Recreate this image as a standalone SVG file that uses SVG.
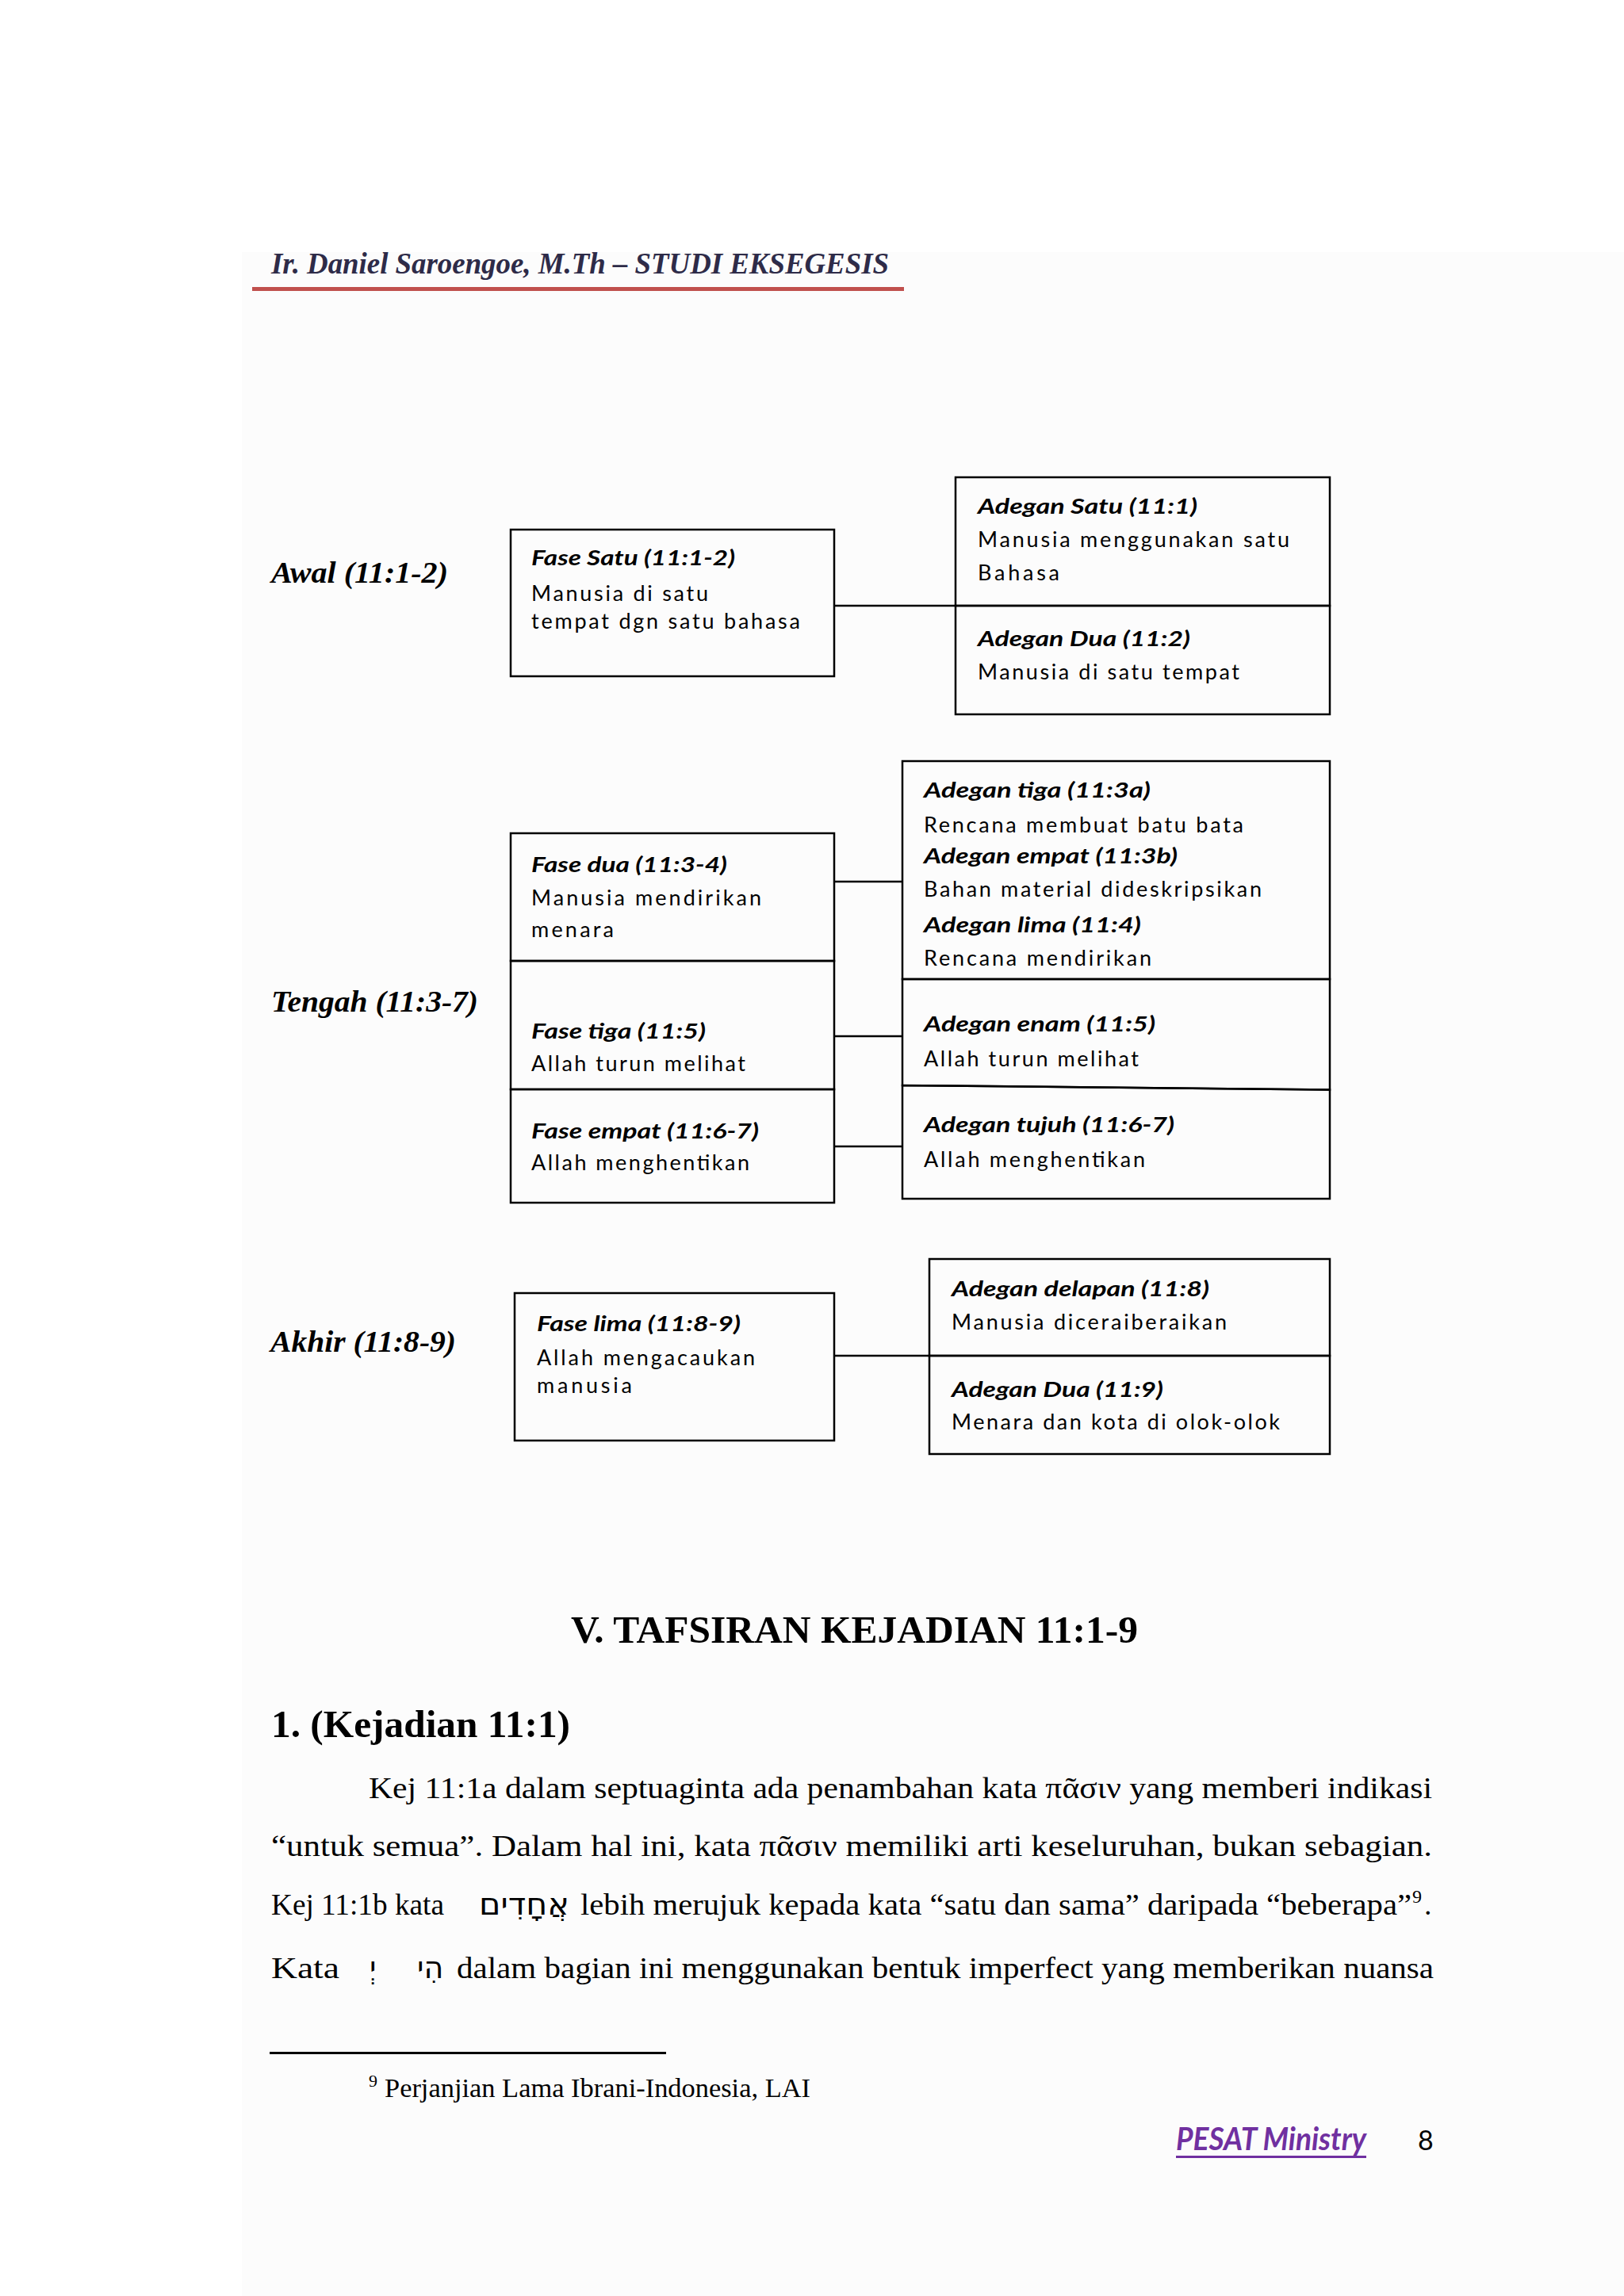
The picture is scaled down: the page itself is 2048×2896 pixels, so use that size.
<svg xmlns="http://www.w3.org/2000/svg" width="2048" height="2896" viewBox="0 0 2048 2896">
<style>
.bx{fill:none;stroke:#000;stroke-width:2.5}
.cn{stroke:#000;stroke-width:2.5;fill:none}
.t{font-family:Lato,"Open Sans",sans-serif;font-size:27px;font-weight:700;font-style:italic;fill:#000}
.d{font-family:Lato,"Open Sans",sans-serif;font-size:27px;fill:#000}
.sec{font-family:"Liberation Serif","Times New Roman",serif;font-size:37px;font-weight:700;font-style:italic;fill:#000}
.body{font-family:"Liberation Serif","Times New Roman",serif;font-size:38px;fill:#000}
.heb{font-family:"DejaVu Sans","Liberation Serif",sans-serif;font-size:38px;fill:#000}
.h{font-family:"Liberation Serif","Times New Roman",serif;font-size:48px;font-weight:700;fill:#000}
</style>
<rect x="0" y="0" width="2048" height="2896" fill="#ffffff"/>
<rect x="305" y="318" width="1743" height="2578" fill="#fcfcfc"/>

<g id="header">
<text x="342" y="345" font-family="'Liberation Serif',serif" font-size="37" font-weight="700" font-style="italic" fill="#2e2b48" textLength="779" lengthAdjust="spacingAndGlyphs">Ir. Daniel Saroengoe, M.Th – STUDI EKSEGESIS</text>
<rect x="318" y="362" width="822" height="5" fill="#c0504d"/>
</g>

<g id="connectors">
<line class="cn" x1="1052" y1="764" x2="1205" y2="764"/>
<line class="cn" x1="1052" y1="1112" x2="1138" y2="1112"/>
<line class="cn" x1="1052" y1="1307" x2="1138" y2="1307"/>
<line class="cn" x1="1052" y1="1446" x2="1138" y2="1446"/>
<line class="cn" x1="1052" y1="1710" x2="1172" y2="1710"/>
</g>

<g id="label-awal"><text class="sec" x="342" y="735" textLength="223" lengthAdjust="spacingAndGlyphs">Awal (11:1-2)</text></g>
<g id="label-tengah"><text class="sec" x="342" y="1276" textLength="261" lengthAdjust="spacingAndGlyphs">Tengah (11:3-7)</text></g>
<g id="label-akhir"><text class="sec" x="341" y="1705" textLength="234" lengthAdjust="spacingAndGlyphs">Akhir (11:8-9)</text></g>

<g id="fase-satu">
<rect class="bx" x="644" y="668" width="408" height="185"/>
<text class="t" x="670" y="713" textLength="257" lengthAdjust="spacingAndGlyphs">Fase Satu (11:1-2)</text>
<text class="d" x="670" y="758" textLength="223" lengthAdjust="spacing">Manusia di satu</text>
<text class="d" x="670" y="793" textLength="339" lengthAdjust="spacing">tempat  dgn satu bahasa</text>
</g>

<g id="adegan-satu">
<rect class="bx" x="1205" y="602" width="472" height="162"/>
<text class="t" x="1233" y="648" textLength="277" lengthAdjust="spacingAndGlyphs">Adegan Satu (11:1)</text>
<text class="d" x="1233" y="690" textLength="393" lengthAdjust="spacing">Manusia menggunakan satu</text>
<text class="d" x="1233" y="732" textLength="103" lengthAdjust="spacing">Bahasa</text>
</g>

<g id="adegan-dua">
<rect class="bx" x="1205" y="764" width="472" height="137"/>
<text class="t" x="1233" y="815" textLength="268" lengthAdjust="spacingAndGlyphs">Adegan Dua (11:2)</text>
<text class="d" x="1233" y="857" textLength="330" lengthAdjust="spacing">Manusia di satu tempat</text>
</g>

<g id="fase-dua">
<rect class="bx" x="644" y="1051" width="408" height="161"/>
<text class="t" x="670" y="1100" textLength="247" lengthAdjust="spacingAndGlyphs">Fase dua (11:3-4)</text>
<text class="d" x="670" y="1142" textLength="290" lengthAdjust="spacing">Manusia mendirikan</text>
<text class="d" x="670" y="1182" textLength="104" lengthAdjust="spacing">menara</text>
</g>

<g id="fase-tiga">
<rect class="bx" x="644" y="1212" width="408" height="162"/>
<text class="t" x="670" y="1310" textLength="220" lengthAdjust="spacingAndGlyphs">Fase tiga (11:5)</text>
<text class="d" x="670" y="1351" textLength="270" lengthAdjust="spacing">Allah turun melihat</text>
</g>

<g id="fase-empat">
<rect class="bx" x="644" y="1374" width="408" height="143"/>
<text class="t" x="670" y="1436" textLength="287" lengthAdjust="spacingAndGlyphs">Fase empat (11:6-7)</text>
<text class="d" x="670" y="1476" textLength="275" lengthAdjust="spacing">Allah menghentikan</text>
</g>

<g id="adegan-tiga-lima">
<rect class="bx" x="1138" y="960" width="539" height="275"/>
<text class="t" x="1165" y="1006" textLength="286" lengthAdjust="spacingAndGlyphs">Adegan tiga (11:3a)</text>
<text class="d" x="1165" y="1050" textLength="403" lengthAdjust="spacing">Rencana membuat  batu bata</text>
<text class="t" x="1165" y="1089" textLength="320" lengthAdjust="spacingAndGlyphs">Adegan empat (11:3b)</text>
<text class="d" x="1165" y="1131" textLength="426" lengthAdjust="spacing">Bahan material dideskripsikan</text>
<text class="t" x="1165" y="1176" textLength="274" lengthAdjust="spacingAndGlyphs">Adegan lima (11:4)</text>
<text class="d" x="1165" y="1218" textLength="287" lengthAdjust="spacing">Rencana mendirikan</text>
</g>

<g id="adegan-enam">
<path class="bx" d="M1138 1235 H1677 V1374.5 L1138 1369 Z"/>
<text class="t" x="1165" y="1301" textLength="292" lengthAdjust="spacingAndGlyphs">Adegan enam (11:5)</text>
<text class="d" x="1165" y="1345" textLength="271" lengthAdjust="spacing">Allah turun melihat</text>
</g>

<g id="adegan-tujuh">
<path class="bx" d="M1138 1369 L1677 1374.5 V1512 H1138 Z"/>
<text class="t" x="1165" y="1428" textLength="316" lengthAdjust="spacingAndGlyphs">Adegan tujuh (11:6-7)</text>
<text class="d" x="1165" y="1472" textLength="279" lengthAdjust="spacing">Allah menghentikan</text>
</g>

<g id="fase-lima">
<rect class="bx" x="649" y="1631" width="403" height="186"/>
<text class="t" x="677" y="1679" textLength="257" lengthAdjust="spacingAndGlyphs">Fase lima (11:8-9)</text>
<text class="d" x="677" y="1722" textLength="275" lengthAdjust="spacing">Allah mengacaukan</text>
<text class="d" x="677" y="1757" textLength="120" lengthAdjust="spacing">manusia</text>
</g>

<g id="adegan-delapan">
<rect class="bx" x="1172" y="1588" width="505" height="122"/>
<text class="t" x="1200" y="1635" textLength="325" lengthAdjust="spacingAndGlyphs">Adegan delapan (11:8)</text>
<text class="d" x="1200" y="1677" textLength="347" lengthAdjust="spacing">Manusia diceraiberaikan</text>
</g>

<g id="adegan-dua-akhir">
<rect class="bx" x="1172" y="1710" width="505" height="124"/>
<text class="t" x="1200" y="1762" textLength="267" lengthAdjust="spacingAndGlyphs">Adegan Dua (11:9)</text>
<text class="d" x="1200" y="1803" textLength="414" lengthAdjust="spacing">Menara dan kota di olok-olok</text>
</g>

<g id="text-body">
<text class="h" x="720" y="2072" textLength="715" lengthAdjust="spacingAndGlyphs">V. TAFSIRAN KEJADIAN 11:1-9</text>
<text class="h" x="342" y="2191" textLength="377" lengthAdjust="spacingAndGlyphs">1. (Kejadian 11:1)</text>
<text class="body" x="465" y="2268" textLength="1341" lengthAdjust="spacingAndGlyphs">Kej 11:1a dalam septuaginta ada penambahan kata πᾶσιν yang memberi indikasi</text>
<text class="body" x="342" y="2341" textLength="1464" lengthAdjust="spacingAndGlyphs">“untuk semua”. Dalam hal ini, kata πᾶσιν memiliki arti keseluruhan, bukan sebagian.</text>
<text class="body" x="342" y="2415" textLength="218" lengthAdjust="spacingAndGlyphs">Kej 11:1b kata</text>
<text class="heb" x="604" y="2415" textLength="114" lengthAdjust="spacingAndGlyphs">אֲחָדִים</text>
<text class="body" x="732" y="2415" textLength="1048" lengthAdjust="spacingAndGlyphs">lebih merujuk kepada kata “satu dan sama” daripada “beberapa”</text>
<text x="1781" y="2400" font-family="'Liberation Serif',serif" font-size="24">9</text>
<text class="body" x="1796" y="2415">.</text>
<text class="body" x="342" y="2495" textLength="86" lengthAdjust="spacingAndGlyphs">Kata</text>
<text class="heb" x="466" y="2495">יְ</text>
<text class="heb" x="526" y="2495">הִי</text>
<text class="body" x="576" y="2495" textLength="1232" lengthAdjust="spacingAndGlyphs">dalam bagian ini menggunakan bentuk imperfect yang memberikan nuansa</text>
</g>

<g id="footnote">
<rect x="340" y="2588" width="500" height="3" fill="#000"/>
<text x="465" y="2632" font-family="'Liberation Serif',serif" font-size="22">9</text>
<text x="485" y="2645" font-family="'Liberation Serif',serif" font-size="33" textLength="537" lengthAdjust="spacingAndGlyphs">Perjanjian  Lama  Ibrani-Indonesia, LAI</text>
</g>

<g id="footer">
<text x="1483" y="2712" font-family="Lato,'Open Sans',sans-serif" font-size="40" font-weight="700" font-style="italic" fill="#7030a0" textLength="240" lengthAdjust="spacingAndGlyphs">PESAT Ministry</text>
<rect x="1483" y="2719" width="240" height="3" fill="#7030a0"/>
<text x="1788" y="2712" font-family="Lato,'Open Sans',sans-serif" font-size="34" fill="#000">8</text>
</g>
</svg>
